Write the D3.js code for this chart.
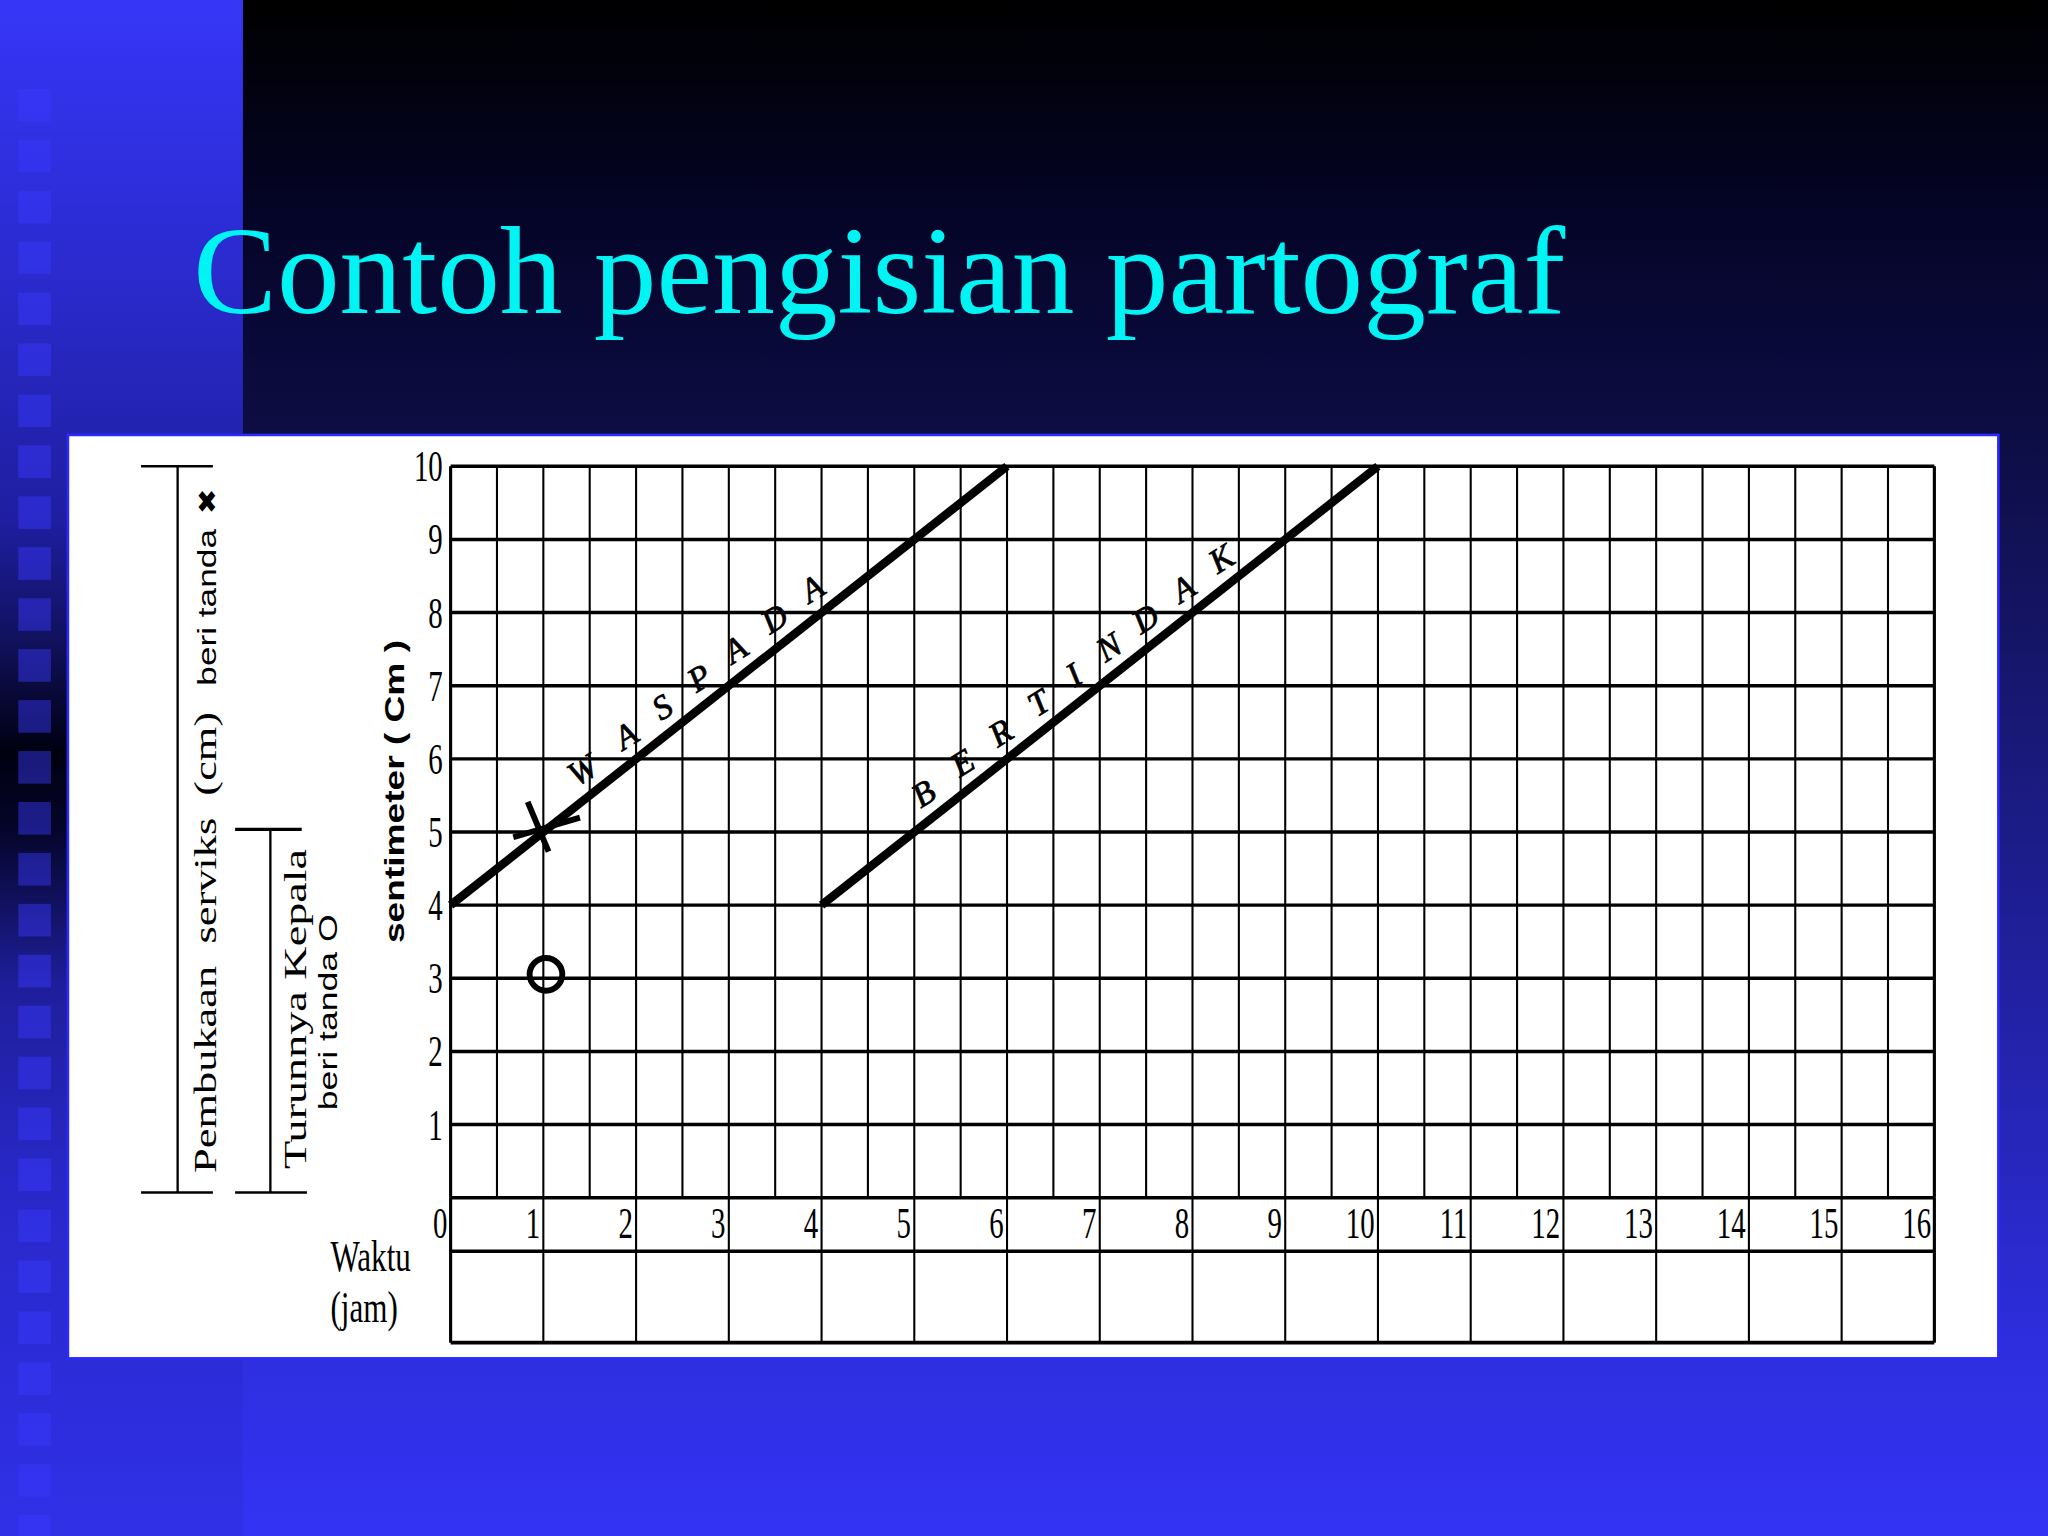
<!DOCTYPE html>
<html>
<head>
<meta charset="utf-8">
<script src="https://cdn.jsdelivr.net/npm/d3@7"></script>
<style>
  html, body { margin: 0; padding: 0; background: #000; overflow: hidden; }
</style>
</head>
<body>
<div id="chart"></div>
<script>
const hours = d3.range(0, 17);                 // jam 0..16
const halfHours = d3.range(0, 16.5, 0.5);      // grid columns
const cmLines = d3.range(0, 11);               // 0..10 cm
const cmLabels = d3.range(1, 11);
const alertLine = [[0, 4], [6, 10]];           // garis waspada
const actionLine = [[4, 4], [10, 10]];         // garis bertindak
const dilationMarks = [[1, 5]];                // beri tanda X
const descentMarks = [[1, 3]];                 // beri tanda O
const alertLetters = ["W", "A", "S", "P", "A", "D", "A"];
const alertLetterHours = [1.42, 1.89, 2.28, 2.68, 3.07, 3.49, 3.9];
const actionLetters = ["B", "E", "R", "T", "I", "N", "D", "A", "K"];
const actionLetterHours = [5.1, 5.52, 5.93, 6.34, 6.72, 7.1, 7.49, 7.9, 8.31];

const W = 1568, H = 1176;
const svg = d3.select("#chart").append("svg")
    .attr("width", 2048)
    .attr("height", 1536)
    .attr("viewBox", `0 0 ${W} ${H}`)
    .attr("preserveAspectRatio", "none");

// background gradients
var defs = svg.append("defs");
var gMain = defs.append("linearGradient").attr("id", "bgMain")
    .attr("x1", 0).attr("y1", 0).attr("x2", 0).attr("y2", 1);
[[0, "#000000"], [0.15, "#05052a"], [0.3, "#0e0e48"], [0.45, "#171770"],
 [0.7, "#2424b0"], [0.88, "#2e2edf"], [1, "#3333f5"]].forEach(s =>
    gMain.append("stop").attr("offset", s[0]).attr("stop-color", s[1]));
var gSide = defs.append("linearGradient").attr("id", "bgSide")
    .attr("x1", 0).attr("y1", 0).attr("x2", 0).attr("y2", 1);
[[0, "#3636f8"], [0.17, "#2b2bd0"], [0.34, "#1e1ea0"], [0.42, "#10105a"],
 [0.49, "#000010"], [0.54, "#05052a"], [0.64, "#1e1e9a"], [0.77, "#2828c8"],
 [1, "#3030e8"]].forEach(s =>
    gSide.append("stop").attr("offset", s[0]).attr("stop-color", s[1]));

svg.append("rect").attr("width", W).attr("height", H).attr("fill", "url(#bgMain)");
svg.append("rect").attr("width", 186).attr("height", H).attr("fill", "url(#bgSide)");
svg.append("g").selectAll("rect")
    .data(d3.range(68, H, 39))
    .join("rect")
    .attr("x", 14).attr("y", d => d)
    .attr("width", 25).attr("height", 25)
    .attr("fill", "#3a3aff").attr("opacity", 0.45);

svg.append("text")
    .attr("x", 148).attr("y", 240)
    .attr("font-family", "'Liberation Serif', 'Times New Roman', serif")
    .attr("font-size", 96)
    .attr("fill", "#00f4f4")
    .text("Contoh pengisian partograf");

// white sheet
svg.append("rect")
    .attr("x", 52).attr("y", 333).attr("width", 1478).attr("height", 707)
    .attr("fill", "#fff").attr("stroke", "#2a2aff").attr("stroke-width", 2);

const x = d3.scaleLinear().domain([0, 16]).range([345, 1481]);
const y = d3.scaleLinear().domain([0, 10]).range([917, 357]);
const labelRowBottom = 958, timeRowBottom = 1028;
const serif = "'Liberation Serif', 'Times New Roman', serif";
const sans = "'Liberation Sans', Arial, sans-serif";

const grid = svg.append("g").attr("stroke", "#000");

grid.selectAll(".vcol").data(halfHours).join("line")
    .attr("class", "vcol")
    .attr("x1", d => x(d)).attr("x2", d => x(d))
    .attr("y1", y(0)).attr("y2", y(10))
    .attr("stroke-width", d => (d === 0 || d === 16) ? 2.4 : 1.6);

grid.selectAll(".hrow").data(cmLines).join("line")
    .attr("class", "hrow")
    .attr("x1", x(0)).attr("x2", x(16))
    .attr("y1", d => y(d)).attr("y2", d => y(d))
    .attr("stroke-width", 2.6);

grid.selectAll(".vtime").data(hours).join("line")
    .attr("class", "vtime")
    .attr("x1", d => x(d)).attr("x2", d => x(d))
    .attr("y1", y(0)).attr("y2", timeRowBottom)
    .attr("stroke-width", d => (d === 0 || d === 16) ? 2.4 : 1.6);

grid.selectAll(".htime").data([labelRowBottom, timeRowBottom]).join("line")
    .attr("class", "htime")
    .attr("x1", x(0)).attr("x2", x(16))
    .attr("y1", d => d).attr("y2", d => d)
    .attr("stroke-width", 2.8);

// axes
var xAxis = svg.append("g")
    .attr("transform", `translate(0,${y(0)})`)
    .call(d3.axisBottom(x).tickValues(hours).tickSize(0).tickFormat(d3.format("d")));
xAxis.select(".domain").remove();
xAxis.selectAll("text")
    .attr("x", 0).attr("y", 0).attr("dy", null)
    .attr("text-anchor", "end")
    .attr("transform", "translate(-3,31) scale(0.65,1)")
    .attr("font-family", serif).attr("font-size", 34).attr("fill", "#000");

var yAxis = svg.append("g")
    .attr("transform", `translate(${x(0)},0)`)
    .call(d3.axisLeft(y).tickValues(cmLabels).tickSize(0).tickFormat(d3.format("d")));
yAxis.select(".domain").remove();
yAxis.selectAll("text")
    .attr("x", 0).attr("y", 0).attr("dy", null)
    .attr("text-anchor", "end")
    .attr("transform", "translate(-6,11) scale(0.65,1)")
    .attr("font-family", serif).attr("font-size", 34).attr("fill", "#000");

svg.append("text")
    .attr("transform", "translate(253,973) scale(0.7,1)")
    .attr("font-family", serif).attr("font-size", 34)
    .text("Waktu");
svg.append("text")
    .attr("transform", "translate(253,1012) scale(0.7,1)")
    .attr("font-family", serif).attr("font-size", 34)
    .text("(jam)");

// garis waspada / bertindak
const line = d3.line().x(d => x(d[0])).y(d => y(d[1]));
svg.selectAll(".guide").data([alertLine, actionLine]).join("path")
    .attr("class", "guide")
    .attr("d", line)
    .attr("fill", "none").attr("stroke", "#000").attr("stroke-width", 6.5);

function letterPos(seg, h) {
    var cm = seg[0][1] + (h - seg[0][0]) * (seg[1][1] - seg[0][1]) / (seg[1][0] - seg[0][0]);
    return [x(h), y(cm) - 24];
}
function addLetters(seg, letters, hrs) {
    svg.append("g").selectAll("text")
        .data(letters.map((l, i) => ({ l: l, p: letterPos(seg, hrs[i]) })))
        .join("text")
        .attr("transform", d => `translate(${d.p[0]},${d.p[1]}) rotate(-32)`)
        .attr("text-anchor", "middle")
        .attr("dominant-baseline", "central")
        .attr("font-family", serif).attr("font-style", "italic")
        .attr("font-size", 26)
        .attr("stroke", "#000").attr("stroke-width", 0.6)
        .text(d => d.l);
}
addLetters(alertLine, alertLetters, alertLetterHours);
addLetters(actionLine, actionLetters, actionLetterHours);

// tanda X dan O
var xm = svg.append("g").selectAll("g").data(dilationMarks).join("g")
    .attr("transform", d => `translate(${x(d[0])},${y(d[1])})`)
    .attr("stroke", "#000").attr("stroke-width", 4.5);
xm.append("line").attr("x1", -12).attr("y1", -23).attr("x2", 4).attr("y2", 15);
xm.append("line").attr("x1", -23).attr("y1", 4).attr("x2", 28).attr("y2", -11);

svg.append("g").selectAll("circle").data(descentMarks).join("circle")
    .attr("cx", d => x(d[0]) + 2).attr("cy", d => y(d[1]) - 3)
    .attr("r", 12.5)
    .attr("fill", "none").attr("stroke", "#000").attr("stroke-width", 4.5);

// left brackets and labels
const br = svg.append("g").attr("stroke", "#000");
br.append("line").attr("x1", 108).attr("x2", 163).attr("y1", y(10)).attr("y2", y(10)).attr("stroke-width", 2);
br.append("line").attr("x1", 136).attr("x2", 136).attr("y1", y(10)).attr("y2", y(0) - 4).attr("stroke-width", 1.8);
br.append("line").attr("x1", 108).attr("x2", 163).attr("y1", y(0) - 4).attr("y2", y(0) - 4).attr("stroke-width", 2);
br.append("line").attr("x1", 180).attr("x2", 231).attr("y1", y(5) - 2).attr("y2", y(5) - 2).attr("stroke-width", 2.4);
br.append("line").attr("x1", 207).attr("x2", 207).attr("y1", y(5) - 2).attr("y2", y(0) - 4).attr("stroke-width", 1.8);
br.append("line").attr("x1", 180).attr("x2", 235).attr("y1", y(0) - 4).attr("y2", y(0) - 4).attr("stroke-width", 2);

function vText(bx, sy, len, family, size, str, weight) {
    svg.append("text")
        .attr("transform", `translate(${bx},${sy}) rotate(-90) scale(1,0.72)`)
        .attr("font-family", family).attr("font-size", size)
        .attr("font-weight", weight || "normal")
        .attr("textLength", len).attr("lengthAdjust", "spacingAndGlyphs")
        .attr("xml:space", "preserve")
        .text(str);
}
vText(165, 898, 353, serif, 34, "Pembukaan  serviks  (cm)");
vText(165, 525, 120, sans, 27, "beri tanda");
svg.append("text")
    .attr("transform", "translate(165,394) rotate(-90) scale(1,0.8)")
    .attr("font-family", "'DejaVu Sans', sans-serif").attr("font-size", 24)
    .text("\u2716");
vText(234, 895, 245, serif, 34, "Turunnya Kepala");
vText(258, 850, 150, sans, 27, "beri tanda O");
vText(309, 722, 232, sans, 30, "sentimeter ( Cm )", "bold");
</script>
</body>
</html>
